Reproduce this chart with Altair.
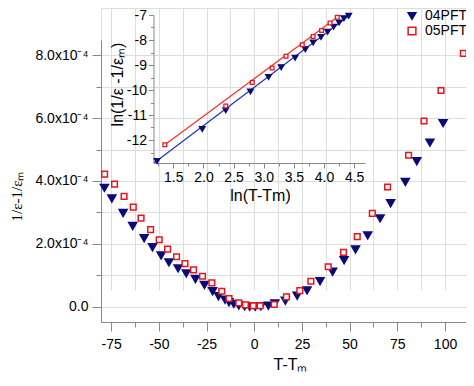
import altair as alt
import pandas as pd

# ---------------- data ----------------
series_names = ["04PFT", "05PFT"]

# main panel: T - Tm  vs  1/eps - 1/eps_m  (y in units of 1e-4)
t04_x = [-78.5, -74.6, -68.7, -63.7, -57.7, -53.3, -48.8, -44.7, -39.9, -35.6,
         -30.8, -26.1, -21.8, -18.7, -15.3, -13.2, -10.7, -8.1, -5.0, -2.4,
         0.5, 3.5, 7.4, 10.8, 16.3, 22.5, 27.7, 34.5, 41.1, 47.1,
         53.1, 59.5, 66.0, 71.5, 79.2, 85.2, 92.1, 99.0]
t04_y = [3.78, 3.44, 2.98, 2.57, 2.18, 1.89, 1.63, 1.41, 1.22, 1.06,
         0.88, 0.69, 0.49, 0.33, 0.22, 0.14, 0.09, 0.04, 0.01, 0.0,
         0.0, 0.01, 0.03, 0.10, 0.19, 0.35, 0.52, 0.81, 1.11, 1.48,
         1.82, 2.27, 2.81, 3.29, 3.97, 4.63, 5.22, 5.84]

s05_x = [-78.4, -73.2, -68.2, -63.4, -59.3, -54.3, -49.8, -45.4, -40.7, -36.3,
         -31.8, -27.1, -22.2, -17.0, -13.2, -8.1, -4.6, -0.5, 3.1, 10.5,
         16.9, 23.9, 29.7, 38.8, 46.8, 54.0, 61.9, 69.9, 80.9, 89.0,
         97.9, 109.6]
s05_y = [4.22, 3.90, 3.51, 3.17, 2.82, 2.45, 2.13, 1.83, 1.59, 1.37,
         1.17, 0.97, 0.76, 0.49, 0.26, 0.12, 0.06, 0.03, 0.03, 0.07,
         0.31, 0.51, 0.81, 1.27, 1.73, 2.23, 2.97, 3.81, 4.82, 5.91,
         6.88, 8.06]

# inset: ln(T-Tm) vs ln(1/eps - 1/eps_m)
i04_x = [1.23, 1.98, 2.37, 2.78, 3.08, 3.29, 3.52, 3.69, 3.82, 3.95, 4.06, 4.16, 4.25, 4.33, 4.41]
i04_y = [-12.84, -11.56, -10.81, -10.06, -9.48, -9.09, -8.71, -8.37, -8.10, -7.88, -7.67, -7.47, -7.30, -7.13, -7.03]
i05_x = [1.36, 2.37, 2.81, 3.14, 3.37, 3.64, 3.82, 3.96, 4.10, 4.22]
i05_y = [-12.19, -10.64, -9.70, -9.12, -8.65, -8.19, -7.86, -7.62, -7.32, -7.09]

# linear fits in the inset (end points)
fit04_x = [1.18, 4.43]
fit04_y = [-12.92, -7.0]
fit05_x = [1.36, 4.27]
fit05_y = [-12.19, -7.0]

# tick values
main_x_ticks = [-75, -62.5, -50, -37.5, -25, -12.5, 0, 12.5, 25, 37.5, 50, 62.5, 75, 87.5, 100]
main_y_ticks = [0, 1e-4, 2e-4, 3e-4, 4e-4, 5e-4, 6e-4, 7e-4, 8e-4]
inset_x_ticks = [1.25, 1.5, 1.75, 2.0, 2.25, 2.5, 2.75, 3.0, 3.25, 3.5, 3.75, 4.0, 4.25, 4.5]
inset_y_ticks = [-12.5, -12, -11.5, -11, -10.5, -10, -9.5, -9, -8.5, -8, -7.5, -7]

# ---------------- tables ----------------
main_rows = ([{"x": a, "y": b * 1e-4, "series": "04PFT"} for a, b in zip(t04_x, t04_y)] +
             [{"x": a, "y": b * 1e-4, "series": "05PFT"} for a, b in zip(s05_x, s05_y)])
main_df = pd.DataFrame(main_rows)

inset_rows = ([{"lx": a, "ly": b, "series": "04PFT"} for a, b in zip(i04_x, i04_y)] +
              [{"lx": a, "ly": b, "series": "05PFT"} for a, b in zip(i05_x, i05_y)])
inset_df = pd.DataFrame(inset_rows)

fit_rows = ([{"lx": a, "ly": b, "series": "04PFT"} for a, b in zip(fit04_x, fit04_y)] +
            [{"lx": a, "ly": b, "series": "05PFT"} for a, b in zip(fit05_x, fit05_y)])
fit_df = pd.DataFrame(fit_rows)

NAVY = "#0b0b78"
RED = "#e8141c"
FONT = "Liberation Sans"

color_scale = alt.Scale(domain=series_names, range=[NAVY, RED])
fill_scale = alt.Scale(domain=series_names, range=[NAVY, "#ffffff"])
shape_scale = alt.Scale(domain=series_names, range=["triangle-down", "square"])

legend = alt.Legend(title=None, orient="none", legendX=304, legendY=1,
                    labelFont=FONT, labelFontSize=14, labelColor="black",
                    symbolSize=60, symbolStrokeWidth=1.5, rowPadding=1,
                    labelOffset=6, padding=0)

def tick_cond(test, big, small):
    return {"condition": {"test": test, "value": big}, "value": small}

# ---------------- main panel ----------------
main_x = alt.X("x:Q",
               scale=alt.Scale(domain=[-80.3, 111.0], nice=False, zero=False),
               axis=alt.Axis(orient="bottom", values=main_x_ticks,
                             labelExpr="datum.value % 25 == 0 ? datum.value + '' : ''",
                             tickSize=tick_cond("datum.value % 25 == 0", 9, 5),
                             labelPadding=6, labelFontSize=14,
                             title="T-Tₘ", titleFontSize=16, titleFontWeight="normal",
                             titleX=189, titleY=47,
                             titleAlign="center", titleBaseline="alphabetic"))
main_y = alt.Y("y:Q",
               scale=alt.Scale(domain=[-0.487e-4, 8.486e-4], range=[314, 32], nice=False, zero=False),
               axis=alt.Axis(orient="left", values=main_y_ticks,
                             labelExpr="datum.value == 0 ? '0.0' : (round(datum.value*1e4) % 2 == 0 ? format(datum.value*1e4, '.1f') + 'x10⁻⁴' : '')",
                             tickSize=tick_cond("round(datum.value*1e4) % 2 == 0", 9, 5),
                             labelPadding=4, labelFontSize=14,
                             title="1/ε-1/εₘ", titleFont="Liberation Serif", titleFontSize=15,
                             titleFontWeight="normal",
                             titleAngle=270, titleX=-85, titleY=188,
                             titleAlign="center", titleBaseline="middle"))

main = alt.Chart(main_df).mark_point(filled=False, strokeWidth=1.5, opacity=1).encode(
    x=main_x,
    y=main_y,
    color=alt.Color("series:N", scale=color_scale, legend=legend),
    fill=alt.Fill("series:N", scale=fill_scale, legend=legend),
    shape=alt.Shape("series:N", scale=shape_scale, legend=legend),
    size=alt.condition("datum.series == '04PFT'", alt.value(64), alt.value(32)),
)

# ---------------- inset ----------------
def inset_x():
    return alt.X("lx:Q",
                 scale=alt.Scale(domain=[1.18, 4.68], range=[53, 264], nice=False, zero=False),
                 axis=alt.Axis(orient="bottom", offset=-159, values=inset_x_ticks,
                               labelExpr="(datum.value*2) % 1 == 0 ? format(datum.value, '.1f') : ''",
                               tickSize=tick_cond("(datum.value*2) % 1 == 0", 5, 3),
                               labelPadding=2, labelFontSize=14,
                               title="ln(T-Tm)", titleFontSize=16, titleFontWeight="normal",
                               titleX=159, titleY=32,
                               titleAlign="center", titleBaseline="middle"))

def inset_y():
    return alt.Y("ly:Q",
                 scale=alt.Scale(domain=[-12.92, -7.0], range=[155, 7], nice=False, zero=False),
                 axis=alt.Axis(orient="left", offset=-52.5, values=inset_y_ticks,
                               labelExpr="datum.value % 1 == 0 ? datum.value + '' : ''",
                               tickSize=tick_cond("datum.value % 1 == 0", 5, 3),
                               labelPadding=2, labelFontSize=14,
                               title="ln(1/ε -1/εₘ)", titleFontSize=16, titleFontWeight="normal",
                               titleAngle=270, titleX=-36.5, titleY=76,
                               titleAlign="center", titleBaseline="middle"))

inset_lines = alt.Chart(fit_df).mark_line(strokeWidth=1.2).encode(
    x=inset_x(),
    y=inset_y(),
    detail="series:N",
    stroke=alt.condition("datum.series == '04PFT'", alt.value("#2035b0"), alt.value("#ff2a2a")),
)

inset_pts = alt.Chart(inset_df).mark_point(filled=False, strokeWidth=1.3, opacity=1).encode(
    x=inset_x(),
    y=inset_y(),
    color=alt.Color("series:N", scale=color_scale, legend=legend),
    fill=alt.Fill("series:N", scale=fill_scale, legend=legend),
    shape=alt.Shape("series:N", scale=shape_scale, legend=legend),
    size=alt.condition("datum.series == '04PFT'", alt.value(32), alt.value(14)),
)

inset = alt.layer(inset_lines, inset_pts)

chart = alt.layer(main, inset).resolve_scale(
    x="independent", y="independent"
).properties(
    width=365, height=314,
    autosize=alt.AutoSizeParams(type="none"),
    padding={"left": 93, "top": 0, "right": 0, "bottom": 51},
).configure_view(
    strokeWidth=0
).configure_axis(
    grid=False, domainColor="black", domainWidth=1.6, tickColor="black", tickWidth=1.5,
    labelColor="black", labelFont=FONT, titleFont=FONT, titleColor="black",
    titleFontWeight="normal", labelOverlap=False
).configure(background="white")

chart.save("out.html", embed_options={"renderer": "svg", "actions": False})
